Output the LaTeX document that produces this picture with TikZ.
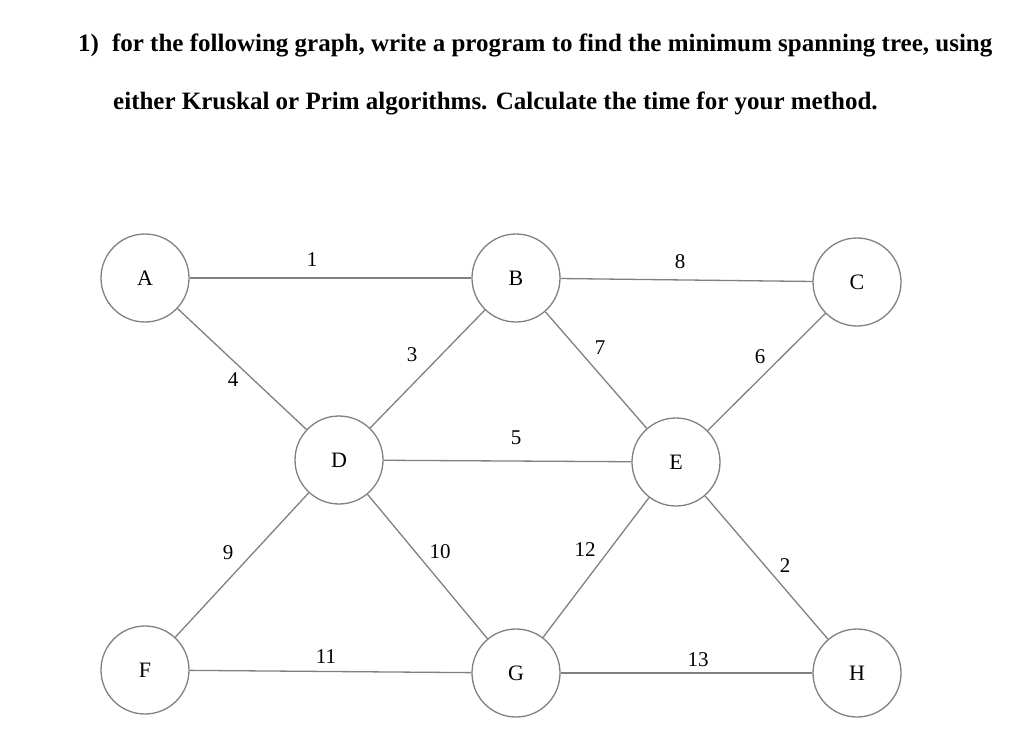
\documentclass[tikz,border=0pt]{standalone}
\usepackage{fontspec}
\setmainfont{Liberation Serif}
\begin{document}
\begin{tikzpicture}[x=1pt,y=-1pt,
  vert/.style={circle,draw=black!50,line width=1.3pt,minimum size=88pt,inner sep=0pt,font=\fontsize{22}{22}\selectfont},
  edge/.style={draw=black!50,line width=1.3pt},
  lbl/.style={font=\fontsize{21}{21}\selectfont,inner sep=1pt}]
\useasboundingbox (0,0) rectangle (1024,735);
\node[anchor=base west,inner sep=0pt,font=\bfseries\fontsize{25}{25}\selectfont] (t1) at (78,52) {1)\hspace{13pt}for the following graph, write a program to find the minimum spanning tree, using};
\node[anchor=base west,inner sep=0pt,font=\bfseries\fontsize{25}{25}\selectfont] (t2) at (113,110) {either Kruskal or Prim algorithms. Calculate the time for your method.};
\node[vert] (A) at (145,278) {A};
\node[vert] (B) at (516,278) {B};
\node[vert] (C) at (857,282) {C};
\node[vert] (D) at (339,460) {D};
\node[vert] (E) at (676,462) {E};
\node[vert] (F) at (145,670) {F};
\node[vert] (G) at (516,673) {G};
\node[vert] (H) at (857,673) {H};
\foreach \a/\b in {A/B,B/C,A/D,B/D,B/E,C/E,D/E,D/F,D/G,E/G,E/H,F/G,G/H}
  \draw[edge] (\a) -- (\b);
\node[lbl] (l1) at (312,260) {1};
\node[lbl] (l8) at (680,262) {8};
\node[lbl] (l3) at (412,355) {3};
\node[lbl] (l7) at (600,348) {7};
\node[lbl] (l6) at (760,357) {6};
\node[lbl] (l4) at (233,380) {4};
\node[lbl] (l5) at (516,438) {5};
\node[lbl] (l9) at (228,553) {9};
\node[lbl] (l10) at (440,552) {10};
\node[lbl] (l12) at (585,550) {12};
\node[lbl] (l2) at (785,566) {2};
\node[lbl] (l11) at (326,657) {11};
\node[lbl] (l13) at (698,660) {13};
\end{tikzpicture}
\end{document}
